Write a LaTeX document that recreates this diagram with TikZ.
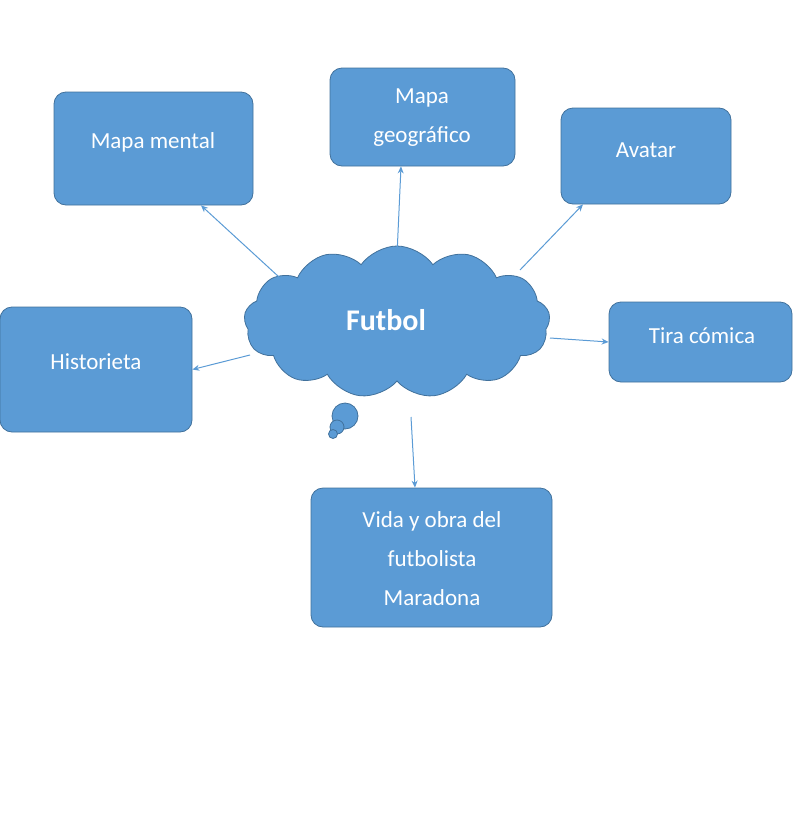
\documentclass[tikz,border=0pt]{standalone}
\usepackage{fontspec}
\setmainfont{Carlito}
\usetikzlibrary{shapes.symbols,arrows.meta}
\definecolor{fillb}{HTML}{5B9BD5}
\definecolor{edgeb}{HTML}{41719C}
\begin{document}
\begin{tikzpicture}[x=1pt,y=-1pt,
  boxst/.style={draw=edgeb,fill=fillb,rounded corners=12pt,line width=0.8pt,inner sep=0pt},
  txt/.style={text=white,font=\fontsize{23}{39}\selectfont,align=center,inner sep=0pt},
  conn/.style={draw=fillb,line width=1pt,-{Stealth[length=7pt,width=6pt]}}]
\useasboundingbox (0,0) rectangle (795,817);
\node[boxst,minimum width=199pt,minimum height=113pt] (mm) at (153.5,148.5) {};
\node[boxst,minimum width=185pt,minimum height=98pt] (mg) at (422.5,117) {};
\node[boxst,minimum width=170pt,minimum height=96pt] (av) at (646,156) {};
\node[boxst,minimum width=192pt,minimum height=125pt] (hi) at (96,369.5) {};
\node[boxst,minimum width=183pt,minimum height=80pt] (tc) at (700.5,342) {};
\node[boxst,minimum width=241pt,minimum height=139pt] (vo) at (431.5,557.5) {};
\node[txt] (tmm) at (153,142) {Mapa mental};
\node[txt] (tmg) at (422,118) {Mapa\\geográfico};
\node[txt] (tav) at (646,150) {Avatar};
\node[txt] (thi) at (96,362) {Historieta};
\node[txt] (ttc) at (702,336) {Tira cómica};
\node[txt] (tvo) at (432,559) {Vida y obra del\\futbolista\\Maradona};
\node[cloud,cloud puffs=13,cloud puff arc=110,aspect=2,draw=edgeb,fill=fillb,line width=0.8pt,minimum width=306pt,minimum height=152pt] (fu) at (397,322) {};
\node[text=white,font=\bfseries\fontsize{30}{34}\selectfont] (fl) at (386,320) {Futbol};
\node[circle,draw=edgeb,fill=fillb,line width=0.8pt,minimum size=26pt,inner sep=0pt] (b1) at (345,416) {};
\node[circle,draw=edgeb,fill=fillb,line width=0.8pt,minimum size=14pt,inner sep=0pt] (b2) at (337,427) {};
\node[circle,draw=edgeb,fill=fillb,line width=0.8pt,minimum size=9pt,inner sep=0pt] (b3) at (333,434) {};
\coordinate (c1) at (279,277);
\coordinate (c2) at (397,255);
\coordinate (c3) at (520,270);
\coordinate (c4) at (250,355);
\coordinate (c5) at (550,338);
\coordinate (c6) at (411,417);
\draw[conn] (c1) -- (mm.south east -| 201,206);
\draw[conn] (c2) -- (mg.south -| 401,166);
\draw[conn] (c3) -- (av.south west -| 583,204);
\draw[conn] (c4) -- (hi.east);
\draw[conn] (c5) -- (tc.west);
\draw[conn] (c6) -- (vo.north -| 415,489);
\end{tikzpicture}
\end{document}
